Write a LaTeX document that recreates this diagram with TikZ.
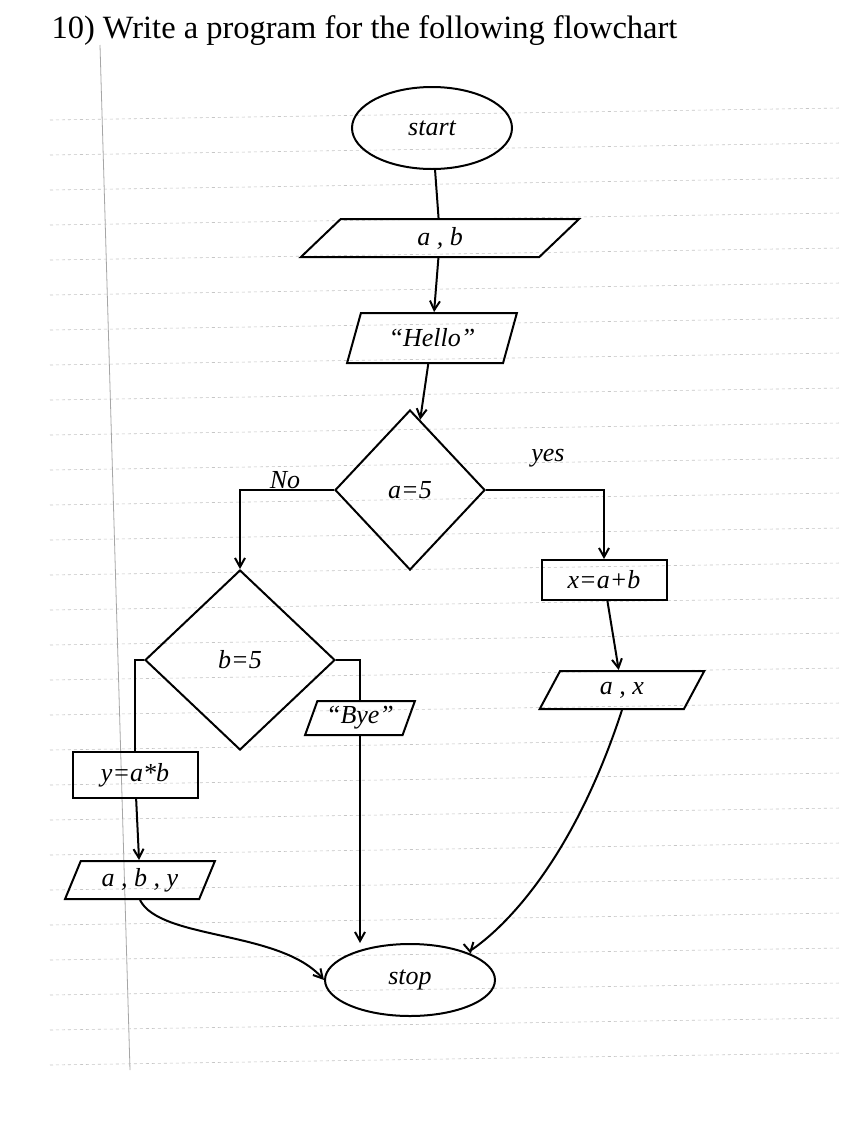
\documentclass[tikz,border=0pt]{standalone}
\usepackage{fontspec}
\setmainfont{Liberation Serif}
\usetikzlibrary{shapes.geometric,arrows.meta}
\begin{document}
\begin{tikzpicture}[x=1pt,y=-1pt,
  ln/.style={line width=2pt},
  hw/.style={font=\fontsize{26}{28}\selectfont\itshape},
  io/.style={draw,ln,trapezium,trapezium stretches=true,trapezium left angle=70,trapezium right angle=110,minimum height=38pt,hw},
  proc/.style={draw,ln,rectangle,minimum height=40pt,hw},
  dec/.style={draw,ln,diamond,inner sep=0pt,hw},
  term/.style={draw,ln,ellipse,hw},
  arr/.style={ln,-{Straight Barb[length=9pt,width=10pt]}},
  paper/.style={gray!45,line width=0.6pt,dashed}]
\useasboundingbox (0,0) rectangle (841,1141);
\fill[white] (0,0) rectangle (841,1141);
\foreach \y in {120,155,190,225,260,295,330,365,400,435,470,505,540,575,610,645,680,715,750,785,820,855,890,925,960,995,1030,1065}
  \draw[paper] (50,\y) -- (841,\y-12);
\draw[gray!70,line width=0.8pt] (100,45) -- (130,1070);
\node[anchor=west,font=\fontsize{32.5}{35}\selectfont] (title) at (48,31) {10) Write a program for the following flowchart};
\node[term,minimum width=160pt,minimum height=82pt] (start) at (432,128) {start};
\node[io,minimum width=280pt] (ab) at (440,238) {a , b};
\node[io,minimum width=170pt,minimum height=50pt] (hello) at (432,338) {``Hello''};
\node[dec,minimum width=150pt,minimum height=160pt] (d1) at (410,490) {a=5};
\node[proc,minimum width=125pt] (x) at (604,580) {x=a+b};
\node[io,minimum width=165pt] (ax) at (622,690) {a , x};
\node[dec,minimum width=190pt,minimum height=180pt] (d2) at (240,660) {b=5};
\node[io,minimum width=110pt,minimum height=34pt] (bye) at (360,718) {``Bye''};
\node[proc,minimum width=125pt,minimum height=46pt] (y) at (135,775) {y=a*b};
\node[io,minimum width=150pt] (aby) at (140,880) {a , b , y};
\node[term,minimum width=170pt,minimum height=72pt] (stop) at (410,980) {stop};
\node[hw] (yes) at (548,458) {yes};
\node[hw] (no) at (285,480) {No};
\draw[ln] (start) -- (ab);
\draw[arr] (ab) -- (hello);
\draw[arr] (hello) -- (d1);
\draw[arr] (d1.east) -| (x.north);
\draw[arr] (x) -- (ax);
\draw[arr] (d1.west) -| (d2.north);
\draw[ln] (d2.east) -| (bye.north);
\draw[ln] (d2.west) -| (y.north);
\draw[arr] (y) -- (aby);
\draw[arr] (bye.south) -- (bye.south |- stop.north);
\draw[arr] (ax.south) .. controls (560,900) and (470,950) .. (stop.north east);
\draw[arr] (aby.south) .. controls (160,940) and (280,930) .. (stop.west);
\end{tikzpicture}
\end{document}
